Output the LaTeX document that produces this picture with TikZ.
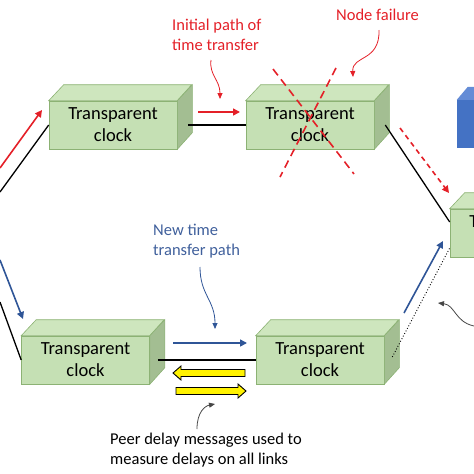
\documentclass[tikz,border=0pt]{standalone}
\usepackage{fontspec}
\setmainfont{Carlito}
\usetikzlibrary{arrows.meta,calc}

\definecolor{boxfront}{RGB}{197,224,180}
\definecolor{boxtop}{RGB}{206,230,190}
\definecolor{boxside}{RGB}{163,190,146}
\definecolor{boxedge}{RGB}{140,178,116}
\definecolor{gmfront}{RGB}{68,114,196}
\definecolor{gmtop}{RGB}{100,140,214}
\definecolor{pathred}{RGB}{228,32,40}
\definecolor{pathblue}{RGB}{47,85,151}
\definecolor{noteblue}{RGB}{64,96,156}
\definecolor{pointgray}{RGB}{70,70,70}

\begin{document}
\begin{tikzpicture}[x=1pt, y=-1pt,
    clock/.style={draw=boxedge, fill=boxfront, line width=0.6pt, minimum width=128pt, minimum height=48pt, inner sep=0pt, align=center, font=\fontsize{18.5}{22}\selectfont},
    link/.style={line width=1.3pt},
    redpath/.style={draw=pathred, line width=1.6pt, -{Triangle[length=7pt,width=7pt]}},
    bluepath/.style={draw=pathblue, line width=1.6pt, -{Triangle[length=7pt,width=7pt]}},
    failx/.style={draw=pathred, line width=1.6pt, dash pattern=on 8pt off 5pt},
    note/.style={align=left, inner sep=0pt, anchor=west, font=\fontsize{16.5}{20.5}\selectfont},
    pointer/.style={line width=0.8pt, -{Triangle[length=6pt,width=5pt]}},
    peerarrow/.style={draw=black, fill=yellow, line width=0.9pt},
  ]
  \useasboundingbox (0,0) rectangle (474,474);
  \clip (0,0) rectangle (474,474);

  % 透過クロック
  \node [clock] (tc1) at (113,125) {Transparent\\clock};
  \node [clock] (tc2) at (310,125) {Transparent\\clock};
  \node [clock] (tc3) at (85.5,360) {Transparent\\clock};
  \node [clock] (tc4) at (320,360) {Transparent\\clock};
  \node [clock] (tc5) at (514,233) {Transparent\\clock};
  \foreach \n in {tc1,tc2,tc3,tc4,tc5} {
    \draw [draw=boxedge, fill=boxtop, line width=0.6pt] (\n.north west) -- ++(15,-16) -- ++(128,0) -- (\n.north east) -- cycle;
    \draw [draw=boxedge, fill=boxside, line width=0.6pt] (\n.north east) -- ++(15,-16) -- ++(0,48) -- (\n.south east) -- cycle;
  }

  % 右上の箱
  \node [fill=gmfront, minimum width=80pt, minimum height=48pt, inner sep=0pt] (gm) at (497,124) {};
  \draw [fill=gmtop, draw=none] (gm.north west) -- ++(11,-13) -- ++(80,0) -- (gm.north east) -- cycle;

  % リンク
  \coordinate (upin) at (0,192);
  \coordinate (lowin) at (0,302);
  \draw [link] (upin) -- (tc1.west);
  \draw [link] (lowin) -- (tc3.west);
  \draw [link] ([xshift=11pt]tc1.east) -- (tc2.west);
  \draw [link] ([xshift=11pt]tc2.east) -- ([yshift=11pt]tc5.west);
  \draw [link] ([xshift=8pt]tc3.east) -- (tc4.west);
  \draw [line width=0.9pt, dotted] ([xshift=8pt,yshift=3pt]tc4.east) -- ([yshift=-15pt]tc5.west);

  % 最初の経路
  \coordinate (r1a) at (0,168);   \coordinate (r1b) at (42,110);
  \coordinate (r2a) at (198,112); \coordinate (r2b) at (240,112);
  \coordinate (r3a) at (400,128); \coordinate (r3b) at (449,193);
  \draw [redpath] (r1a) -- (r1b);
  \draw [redpath] (r2a) -- (r2b);
  \draw [redpath, dash pattern=on 5pt off 4pt] (r3a) -- (r3b);

  % 故障
  \draw [failx] (273,69) -- (354,174);
  \draw [failx] (336,68) -- (280,177);

  % 新しい経路
  \coordinate (b1a) at (0,260);   \coordinate (b1b) at (23,319);
  \coordinate (b2a) at (173,343); \coordinate (b2b) at (247,343);
  \coordinate (b3a) at (404,313); \coordinate (b3b) at (443,241);
  \draw [bluepath] (b1a) -- (b1b);
  \draw [bluepath] (b2a) -- (b2b);
  \draw [bluepath] (b3a) -- (b3b);

  % ピア遅延
  \draw [peerarrow] (173,373) -- (181,366) -- (181,369.5) -- (245,369.5) -- (245,376.5) -- (181,376.5) -- (181,380) -- cycle;
  \draw [peerarrow] (246,391) -- (238,384) -- (238,387.5) -- (176,387.5) -- (176,394.5) -- (238,394.5) -- (238,398) -- cycle;

  % 説明
  \node [note, text=pathred] (initnote) at (172,35) {Initial path of\\time transfer};
  \node [note, text=pathred] (failnote) at (336,15) {Node failure};
  \node [note, text=noteblue] (newnote) at (153,241) {New time\\transfer path};
  \node [note] (peernote) at (110,450) {Peer delay messages used to\\measure delays on all links};
  \draw [pointer, draw=pathred] (211,60) .. controls (209,75) and (220,80) .. (220,99);
  \draw [pointer, draw=pathred] (379,30) .. controls (380,62) and (352,55) .. (353,77);
  \draw [pointer, draw=pathblue] (200,267) .. controls (200,295) and (215,300) .. (215,329);
  \draw [pointer, draw=pointgray] (197,429) .. controls (197,412) and (205,406) .. (215,404);
  \draw [pointer, draw=pointgray] (474,326) .. controls (455,322) and (455,305) .. (438,303);
\end{tikzpicture}
\end{document}
